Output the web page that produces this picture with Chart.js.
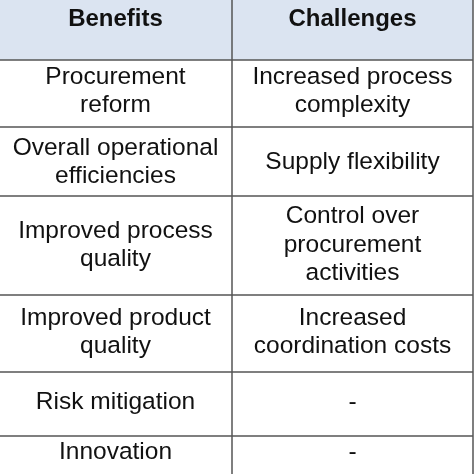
<!DOCTYPE html>
<html><head><meta charset="utf-8">
<script src="https://cdn.jsdelivr.net/npm/chart.js@4/dist/chart.umd.min.js"></script>
<style>html,body{margin:0;padding:0;background:#fff}#w{width:474px;height:474px}</style>
</head><body><div id="w"><canvas id="c"></canvas></div>
<script>
const headers = ["Benefits", "Challenges"];
const benefits = [["Procurement","reform"],["Overall operational","efficiencies"],["Improved process","quality"],["Improved product","quality"],["Risk mitigation"],["Innovation"]];
const challenges = [["Increased process","complexity"],["Supply flexibility"],["Control over","procurement","activities"],["Increased","coordination costs"],["-"],["-"]];
const rowEdges = [0, 60, 127, 196, 295, 372, 436, 500];
const textCenters = [19, 91, 162, 245, 332, 402, 452];
const colEdges = [-5, 232, 473];

const tablePlugin = {
  id: 'table',
  afterDraw(chart) {
    const ctx = chart.ctx, xs = chart.scales.x, ys = chart.scales.y;
    const X = colEdges.map(v => xs.getPixelForValue(v));
    const Y = rowEdges.map(v => ys.getPixelForValue(v));
    ctx.save();
    ctx.fillStyle = '#dbe4f1';
    ctx.fillRect(X[0], Y[0], X[2]-X[0], Y[1]-Y[0]);
    ctx.strokeStyle = '#555';
    ctx.lineWidth = 1.5;
    ctx.beginPath();
    for (let i = 1; i < Y.length - 1; i++) { ctx.moveTo(X[0], Y[i]); ctx.lineTo(X[2], Y[i]); }
    ctx.moveTo(X[1], Y[0]); ctx.lineTo(X[1], Y[Y.length-1]);
    ctx.moveTo(X[2], Y[0]); ctx.lineTo(X[2], Y[Y.length-1]);
    ctx.stroke();
    ctx.textAlign = 'center'; ctx.textBaseline = 'middle'; ctx.fillStyle = '#111';
    const cell = (lines, c, r, font) => {
      ctx.font = font;
      const cx = (X[c] + X[c+1]) / 2 + (c === 0 ? 2 : 0);
      const cy = ys.getPixelForValue(textCenters[r]), lh = 28.5;
      lines.forEach((t, i) => ctx.fillText(t, cx, cy + (i - (lines.length-1)/2) * lh));
    };
    headers.forEach((h, c) => cell([h], c, 0, 'bold 24px "Liberation Sans", Arial, sans-serif'));
    benefits.forEach((l, i) => cell(l, 0, i+1, '24.5px "Liberation Sans", Arial, sans-serif'));
    challenges.forEach((l, i) => cell(l, 1, i+1, '24.5px "Liberation Sans", Arial, sans-serif'));
    ctx.restore();
  }
};

new Chart(document.getElementById('c'), {
  type: 'scatter',
  data: { datasets: [{ data: [] }] },
  options: {
    responsive: true, maintainAspectRatio: false, animation: false,
    layout: { padding: 0 },
    plugins: { legend: { display: false }, tooltip: { enabled: false } },
    scales: {
      x: { type: 'linear', min: 0, max: 474, display: false },
      y: { type: 'linear', min: 0, max: 474, reverse: true, display: false }
    }
  },
  plugins: [tablePlugin]
});
</script></body></html>
